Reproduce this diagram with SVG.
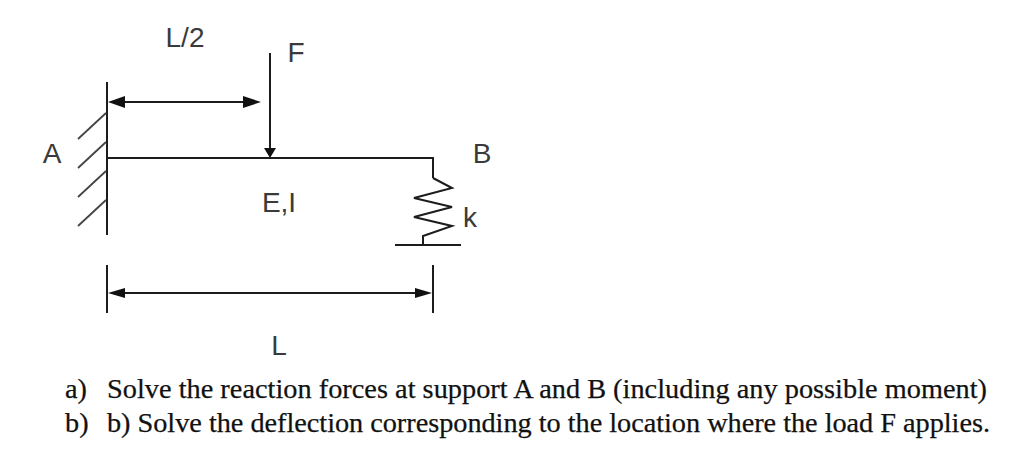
<svg xmlns="http://www.w3.org/2000/svg" width="1024" height="456" viewBox="0 0 1024 456">
<style>
.l{fill:none;stroke:#1c1c1c;stroke-width:2}
.h{fill:none;stroke:#444;stroke-width:1.8}
.a{fill:#111;stroke:none}
.s{font-family:"Liberation Sans",Arial,sans-serif;font-size:28px;fill:#3a3a3a}
.t{font-family:"Liberation Serif","Times New Roman",serif;font-size:28.3px;fill:#111;stroke:#111;stroke-width:.25}
</style>
<rect width="1024" height="456" fill="#fff"/>
<g id="wall-A">
<path class="l" d="M107 82V235"/>
<path class="h" d="M78 139L106 113M78 168L106 142M78 197L106 171M78 226L106 200"/>
<text class="s" x="52" y="163" text-anchor="middle">A</text>
</g>
<g id="beam">
<path class="l" d="M107 158H433V178"/>
<text class="s" x="279" y="212" text-anchor="middle">E,I</text>
</g>
<g id="spring-k">
<path class="l" d="M433 178L452 188L414 198L452 207L414 217L452 226L423 236V245"/>
<path class="l" d="M395 245H461"/>
<text class="s" x="470" y="227" text-anchor="middle">k</text>
</g>
<g id="label-B"><text class="s" x="482" y="163" text-anchor="middle">B</text></g>
<g id="load-F">
<text class="s" x="296" y="62" text-anchor="middle">F</text>
</g>
<g id="connectors">
<path class="l" d="M270 53V150"/>
<path class="a" d="M264 148H276L270 158Z"/>
<path class="l" d="M118 102H250"/>
<path class="a" d="M108 102L125 96V108Z"/>
<path class="a" d="M261 102L243 96V108Z"/>
<path class="l" d="M107 265V313"/>
<path class="l" d="M433 265V313"/>
<path class="l" d="M118 293H420"/>
<path class="a" d="M108 293L125 288V298Z"/>
<path class="a" d="M432 293L415 288V298Z"/>
</g>
<g id="dim-labels">
<text class="s" x="185" y="47" text-anchor="middle">L/2</text>
<text class="s" x="279" y="355" text-anchor="middle">L</text>
</g>
<g id="question-text">
<text class="t" x="65" y="398">a)</text>
<text class="t" x="107" y="398" textLength="880">Solve the reaction forces at support A and B (including any possible moment)</text>
<text class="t" x="65" y="432">b)</text>
<text class="t" x="107" y="432" textLength="883">b) Solve the deflection corresponding to the location where the load F applies.</text>
</g>
</svg>
